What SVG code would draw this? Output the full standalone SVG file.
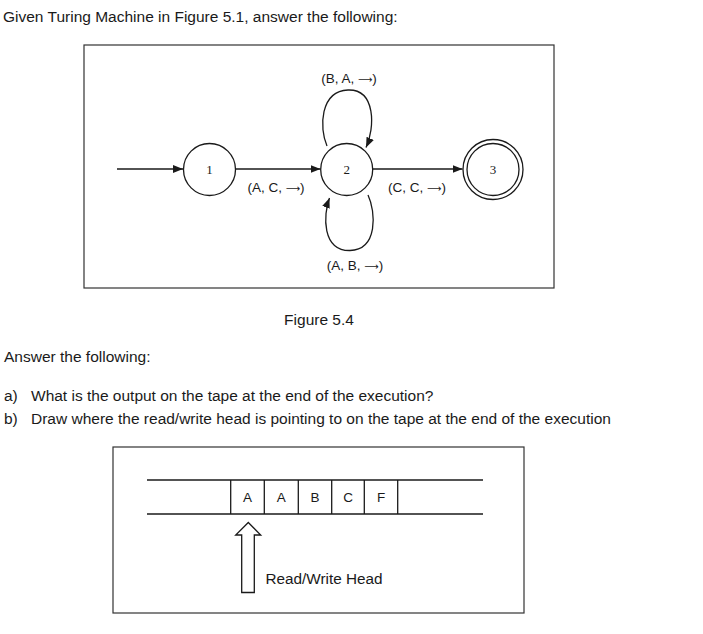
<svg xmlns="http://www.w3.org/2000/svg" width="703" height="634" viewBox="0 0 703 634">
<style>
.t{font-family:"Liberation Sans",Arial,sans-serif;font-size:15.5px;fill:#1a1a1a}
.l{font-family:"Liberation Sans",Arial,sans-serif;font-size:13.5px;fill:#1a1a1a}
.ar{font-family:"DejaVu Sans",sans-serif;font-size:10px}
.n{font-family:"Liberation Serif","Times New Roman",serif;font-size:13px;fill:#1a1a1a;text-anchor:middle}
.c{text-anchor:middle}
.ln{fill:none;stroke:#1a1a1a;stroke-width:1.3}
.box{fill:#fff;stroke:#333;stroke-width:1.2}
</style>
<defs>
<marker id="ah" viewBox="0 0 10 8" refX="10" refY="4" markerWidth="10" markerHeight="8" markerUnits="userSpaceOnUse" orient="auto">
<path d="M0,0 L10,4 L0,8 Z" fill="#1a1a1a"/>
</marker>
</defs>
<rect width="703" height="634" fill="#fff"/>
<text class="t" x="3" y="22">Given Turing Machine in Figure 5.1, answer the following:</text>
<rect class="box" x="84" y="45" width="470" height="243"/>
<g id="connectors">
<line class="ln" x1="117" y1="169" x2="183" y2="169" marker-end="url(#ah)"/>
<line class="ln" x1="236" y1="169" x2="320.5" y2="169" marker-end="url(#ah)"/>
<line class="ln" x1="373" y1="169" x2="462.5" y2="169" marker-end="url(#ah)"/>
<path class="ln" d="M327,146 C319,128 320,91 348,90 C376,89 375,128 366,147.5" marker-end="url(#ah)"/>
<path class="ln" d="M368,195 C376,212 378,250 350,250.5 C322,251 323,215 329.5,198" marker-end="url(#ah)"/>
<text class="l c" x="276" y="192">(A, C, <tspan class="ar">⟶</tspan>)</text>
<text class="l c" x="349" y="83">(B, A, <tspan class="ar">⟶</tspan>)</text>
<text class="l c" x="417" y="192">(C, C, <tspan class="ar">⟶</tspan>)</text>
<text class="l c" x="355" y="270">(A, B, <tspan class="ar">⟶</tspan>)</text>
</g>
<g id="node1"><circle class="ln" cx="209.5" cy="169.5" r="26"/><text class="n" x="209.5" y="174">1</text></g>
<g id="node2"><circle class="ln" cx="346.7" cy="169.5" r="26"/><text class="n" x="346.7" y="174">2</text></g>
<g id="node3"><circle class="ln" cx="493" cy="169.5" r="30"/><circle class="ln" cx="493" cy="169.5" r="26"/><text class="n" x="493" y="174">3</text></g>
<text class="t c" x="319" y="325">Figure 5.4</text>
<text class="t" x="4" y="362">Answer the following:</text>
<text class="t" x="4" y="401">a)</text>
<text class="t" x="31" y="401">What is the output on the tape at the end of the execution?</text>
<text class="t" x="4" y="424">b)</text>
<text class="t" x="31" y="424">Draw where the read/write head is pointing to on the tape at the end of the execution</text>
<rect class="box" x="113" y="447" width="411" height="166"/>
<g id="tape">
<line class="ln" x1="147" y1="480" x2="483" y2="480"/>
<line class="ln" x1="147" y1="514" x2="483" y2="514"/>
<line class="ln" x1="230.7" y1="480" x2="230.7" y2="514"/>
<line class="ln" x1="264.3" y1="480" x2="264.3" y2="514"/>
<line class="ln" x1="298.3" y1="480" x2="298.3" y2="514"/>
<line class="ln" x1="331.7" y1="480" x2="331.7" y2="514"/>
<line class="ln" x1="364.3" y1="480" x2="364.3" y2="514"/>
<line class="ln" x1="397.7" y1="480" x2="397.7" y2="514"/>
<text class="l c" x="247.5" y="502">A</text>
<text class="l c" x="281.3" y="502">A</text>
<text class="l c" x="315" y="502">B</text>
<text class="l c" x="348" y="502">C</text>
<text class="l c" x="381" y="502">F</text>
</g>
<g id="head">
<path class="ln" d="M248.3,522.5 L260.7,535 L254.3,535 L254.3,592.5 L241.7,592.5 L241.7,535 L235.7,535 Z" fill="#fff"/>
<text class="t" x="265.5" y="584" style="font-size:15.3px">Read/Write Head</text>
</g>
</svg>
